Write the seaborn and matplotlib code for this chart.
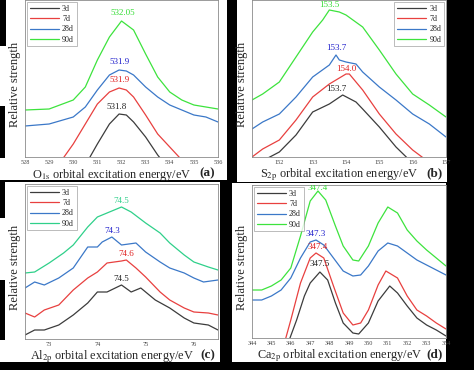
import pandas as pd
import matplotlib
matplotlib.use("Agg")
import matplotlib.pyplot as plt
import seaborn as sns
from matplotlib.patches import Rectangle

sns.set_style("white")
plt.rcParams["font.family"] = ["Liberation Serif", "DejaVu Serif"]
plt.rcParams["mathtext.fontset"] = "stix"

ages = ["3d", "7d", "28d", "90d"]

# (a) O1s
o_x = {
    "90d": [528, 529, 530, 530.5, 531, 531.5, 532, 532.5, 533, 533.5, 534, 534.5, 535, 535.5, 536],
    "28d": [528, 529, 530, 530.5, 531, 531.5, 531.9, 532.2, 532.5, 533, 533.5, 534, 534.5, 535, 535.5, 536],
    "7d": [529.5, 530, 530.5, 531, 531.5, 531.9, 532.2, 532.5, 533, 533.5, 534, 534.5],
    "3d": [530.6, 531, 531.5, 531.9, 532.2, 532.5, 533, 533.5, 533.7],
}
o_y = {
    "90d": [47, 48, 57, 70, 97, 120, 136, 127, 103, 80, 65, 57, 52, 50, 48],
    "28d": [31, 33, 40, 50, 67, 82, 87, 86, 82, 70, 60, 52, 47, 42, 40, 35],
    "7d": [-4, 13, 33, 53, 65, 69, 67, 60, 42, 23, 10, -3],
    "3d": [-4, 13, 33, 43, 42, 35, 20, 2, -4],
}
o_peaks = {"90d": (532.05, 140, "532.05"), "28d": (531.9, 91, "531.9"),
           "7d": (531.9, 73, "531.9"), "3d": (531.8, 46, "531.8")}

# (b) S2p
s_x = {
    "90d": [151.18, 151.5, 152, 152.5, 153, 153.3, 153.5, 153.8, 154, 154.5, 155, 155.5, 156, 156.5, 157],
    "28d": [151.18, 151.5, 152, 152.5, 153, 153.5, 153.7, 153.8, 154, 154.3, 154.5, 155, 155.5, 156, 156.5, 157],
    "7d": [151.18, 151.5, 152, 152.5, 153, 153.5, 154, 154.1, 154.5, 155, 155.5, 156, 156.4],
    "3d": [151.6, 152, 152.5, 153, 153.5, 153.9, 154.3, 154.5, 155, 155.5, 155.9],
}
s_y = {
    "90d": [57, 63, 75, 100, 125, 137, 147, 145, 142, 130, 107, 83, 63, 52, 40],
    "28d": [28, 35, 43, 60, 80, 92, 102, 97, 95, 93, 85, 70, 57, 43, 33, 20],
    "7d": [0, 8, 17, 37, 60, 73, 83, 83, 67, 43, 23, 7, -3],
    "3d": [-2, 5, 22, 45, 53, 62, 55, 48, 30, 10, -3],
}
s_peaks = {"90d": (153.5, 148, "153.5"), "28d": (153.7, 105, "153.7"),
           "7d": (154.0, 84, "154.0"), "3d": (153.7, 64, "153.7")}

# (c) Al2p
a_x = {
    "90d": [72.5, 72.7, 73, 73.3, 73.5, 73.8, 74, 74.2, 74.5, 74.7, 75, 75.3, 75.5, 75.8, 76, 76.3, 76.5],
    "28d": [72.5, 72.7, 72.9, 73.2, 73.5, 73.8, 74, 74.1, 74.3, 74.5, 74.8, 75, 75.3, 75.5, 75.8, 76, 76.2, 76.5],
    "7d": [72.5, 72.7, 72.9, 73.2, 73.5, 73.8, 74, 74.2, 74.5, 74.6, 74.8, 75, 75.3, 75.5, 75.8, 76, 76.3, 76.5],
    "3d": [72.5, 72.7, 72.9, 73.2, 73.5, 73.8, 74, 74.2, 74.5, 74.7, 74.9, 75.2, 75.5, 75.8, 76, 76.3, 76.5],
}
a_y = {
    "90d": [66, 67, 76, 86, 94, 112, 122, 126, 132, 127, 116, 106, 96, 84, 77, 72, 69],
    "28d": [51, 57, 54, 61, 71, 92, 92, 97, 102, 94, 96, 87, 77, 71, 66, 61, 57, 59],
    "7d": [26, 22, 29, 34, 49, 61, 67, 76, 78, 79, 71, 62, 47, 39, 31, 27, 26, 24],
    "3d": [4, 9, 9, 14, 24, 36, 47, 47, 54, 47, 51, 39, 31, 21, 16, 14, 9],
}
a_peaks = {"90d": (74.5, 134, "74.5"), "28d": (74.3, 104, "74.3"),
           "7d": (74.6, 81, "74.6"), "3d": (74.5, 56, "74.5")}

# (d) Ca2p
c_x = {
    "90d": [344, 344.5, 345, 345.5, 346, 346.5, 347, 347.4, 347.8, 348.3, 348.7, 349.2, 349.5, 350, 350.5, 351, 351.5, 352, 352.5, 353, 353.5, 354],
    "28d": [344, 344.5, 345, 345.5, 346, 346.5, 347, 347.3, 347.7, 348.2, 348.7, 349.2, 349.6, 350, 350.5, 351, 351.5, 352, 352.5, 353, 353.5, 354],
    "7d": [345.7, 346, 346.5, 347, 347.3, 347.7, 348.2, 348.7, 349.2, 349.6, 350, 350.5, 350.9, 351.5, 352, 352.5, 353, 353.5, 354],
    "3d": [345.9, 346.3, 346.7, 347, 347.5, 347.9, 348.3, 348.7, 349.2, 349.5, 350, 350.5, 351.1, 351.5, 352, 352.5, 353, 353.5, 354],
}
c_y = {
    "90d": [48, 48, 52, 58, 70, 102, 137, 147, 138, 112, 92, 78, 77, 92, 115, 131, 125, 108, 97, 88, 80, 72],
    "28d": [38, 38, 42, 48, 60, 80, 96, 98, 93, 80, 67, 62, 63, 72, 87, 95, 92, 85, 78, 73, 68, 63],
    "7d": [-3, 18, 55, 80, 85, 80, 52, 25, 13, 15, 28, 53, 67, 60, 42, 28, 22, 15, 9],
    "3d": [-3, 18, 42, 55, 66, 58, 35, 15, 5, 4, 15, 37, 52, 45, 32, 20, 13, 8, 2],
}
c_peaks = {"90d": (347.4, 146, "347.4"), "28d": (347.3, 100, "347.3"),
           "7d": (347.4, 87, "347.4"), "3d": (347.5, 70, "347.5")}

line_colors = {"3d": "#3c3c3c", "7d": "#e8403f", "28d": "#3b78c8", "90d": "#3de33d"}
text_colors = {"3d": "#222222", "7d": "#e02020", "28d": "#2020cc", "90d": "#33dd33"}

W, H = 474, 370
fig = plt.figure(figsize=(W / 100, H / 100), dpi=100, facecolor="black")


def px_rect(x0, y0, x1, y1):
    return [x0 / W, 1 - y1 / H, (x1 - x0) / W, (y1 - y0) / H]


# white panel backgrounds
for (x0, y0, x1, y1) in [(0, 0, 227, 180), (237, 0, 447, 182), (0, 182, 220, 362), (232, 183, 446, 362)]:
    fig.patches.append(Rectangle((x0 / W, 1 - y1 / H), (x1 - x0) / W, (y1 - y0) / H,
                                 transform=fig.transFigure, facecolor="white", edgecolor="none", zorder=-1))
# bits of black at the left edges
for (x0, y0, x1, y1) in [(0, 0, 6, 46), (0, 106, 5, 158), (0, 182, 5, 218), (0, 280, 5, 340)]:
    fig.patches.append(Rectangle((x0 / W, 1 - y1 / H), (x1 - x0) / W, (y1 - y0) / H,
                                 transform=fig.transFigure, facecolor="black", edgecolor="none", zorder=0))

panels = [
    ("a", px_rect(25, 0, 218, 157), o_x, o_y, o_peaks, (528, 536), range(528, 537), (0, 157),
     r"O$_{\rm 1s}$ orbital excitation energy/eV", "upper left"),
    ("b", px_rect(252, 0, 446, 157), s_x, s_y, s_peaks, (151.18, 157), range(152, 158), (0, 157),
     r"S$_{\rm 2p}$ orbital excitation energy/eV", "upper right"),
    ("c", px_rect(25, 184, 218, 339), a_x, a_y, a_peaks, (72.5, 76.5), range(73, 77), (0, 155),
     r"Al$_{\rm 2p}$ orbital excitation energy/eV", "upper left"),
    ("d", px_rect(252, 185, 446, 338), c_x, c_y, c_peaks, (344, 354), range(344, 355), (0, 153),
     r"Ca$_{\rm 2p}$ orbital excitation energy/eV", "upper left"),
]

for tag, rect, xs, ys, peaks, xlim, xticks, ylim, xlabel, loc in panels:
    ax = fig.add_axes(rect)
    ax.set_facecolor("white")
    hpx = rect[3] * H
    for age in ages:
        colr = line_colors[age]
        tcol = text_colors[age]
        if tag == "c" and age == "90d":
            colr = "#2fd08a"
            tcol = "#2fd08a"
        df = pd.DataFrame({"x": xs[age], "y": ys[age]})
        sns.lineplot(data=df, x="x", y="y", ax=ax, color=colr, lw=0.9, label=age,
                     sort=False, estimator=None)
        px, py, txt = peaks[age]
        # labels running past the top are cut by the frame, as in the original
        ax.text(px, py, txt, color=tcol, fontsize=6.5, ha="center", va="bottom", clip_on=True)
    ax.set_xlim(*xlim)
    ax.set_ylim(*ylim)
    ax.set_xticks(list(xticks))
    ax.set_yticks([])
    ax.set_xlabel("")
    ax.set_ylabel("")
    ax.tick_params(axis="x", labelsize=4.5, direction="in", length=2, width=0.5, pad=2.5, colors="#444444")
    for sp in ax.spines.values():
        sp.set_color("#8a8a8a")
        sp.set_linewidth(0.6)
    leg = ax.legend(loc=loc, fontsize=5.8, frameon=True, fancybox=False, borderpad=0.35,
                    handlelength=3.6, labelspacing=0.28, handletextpad=0.4, borderaxespad=0.25)
    leg.get_frame().set_edgecolor("#8a8a8a")
    leg.get_frame().set_linewidth(0.5)
    for ln in leg.get_lines():
        ln.set_linewidth(0.9)
    ax.text(0.45, -10 / hpx, xlabel, transform=ax.transAxes, fontsize=8.8, ha="center", va="top")
    ax.text(0.985, -10 / hpx, "(" + tag + ")", transform=ax.transAxes, fontsize=9.5,
            fontweight="bold", ha="right", va="top")
    ax.text(-10 / (rect[2] * W), 0.46, "Relative strength", transform=ax.transAxes, fontsize=9,
            rotation=90, ha="center", va="center")

fig.savefig("out.png", dpi=100, facecolor="black")
